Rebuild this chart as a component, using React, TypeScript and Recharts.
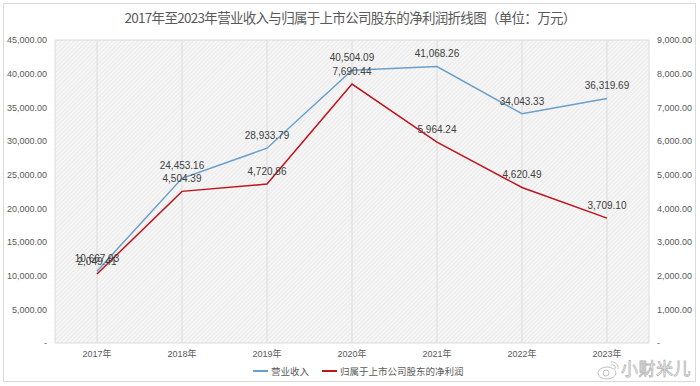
import React from 'react';
import {
  LineChart,
  Line,
  XAxis,
  YAxis,
  CartesianGrid,
  LabelList,
  Legend,
} from 'recharts';

const years = ['2017年', '2018年', '2019年', '2020年', '2021年', '2022年', '2023年'];
const revenue = [10667.93, 24453.16, 28933.79, 40504.09, 41068.26, 34043.33, 36319.69];
const netProfit = [2049.41, 4504.39, 4720.86, 7690.44, 5964.24, 4620.49, 3709.1];
const leftTicks = [0, 5000, 10000, 15000, 20000, 25000, 30000, 35000, 40000, 45000];
const rightTicks = [0, 1000, 2000, 3000, 4000, 5000, 6000, 7000, 8000, 9000];

const REV_NAME = '营业收入';
const PROFIT_NAME = '归属于上市公司股东的净利润';

const data = years.map((y, i) => ({
  year: y,
  [REV_NAME]: revenue[i],
  [PROFIT_NAME]: netProfit[i],
}));

const fmt = (v: number) =>
  v === 0 ? '-' : Number(v).toLocaleString('en-US', { minimumFractionDigits: 2, maximumFractionDigits: 2 });

const FONT = '"Liberation Sans", "Noto Sans CJK SC", sans-serif';

const LegendContent = () => (
  <div
    style={{
      height: 15,
      display: 'flex',
      justifyContent: 'flex-start',
      alignItems: 'center',
      paddingLeft: 253,
      fontFamily: '"Noto Sans CJK SC", sans-serif',
      fontSize: 9.5,
      color: '#595959',
    }}
  >
    <span style={{ display: 'inline-block', width: 15, height: 2, background: '#6a9fca', marginRight: 3 }} />
    <span style={{ marginRight: 13 }}>{REV_NAME}</span>
    <span style={{ display: 'inline-block', width: 15, height: 2, background: '#c0141c', marginRight: 3 }} />
    <span>{PROFIT_NAME}</span>
  </div>
);

export default function App() {
  return (
    <div style={{ position: 'absolute', left: 0, top: 0, width: 700, height: 386, background: '#fff', overflow: 'hidden' }}>
      <div
        style={{
          position: 'absolute',
          left: 3,
          top: 3,
          width: 693,
          height: 379,
          border: '1px solid #d9d9d9',
          boxSizing: 'border-box',
        }}
      />
      <div
        style={{
          position: 'absolute',
          top: 7,
          left: 0,
          width: 700,
          textAlign: 'center',
          fontFamily: '"Noto Sans CJK SC", sans-serif',
          fontSize: 13.5,
          letterSpacing: -0.7,
          color: '#595959',
        }}
      >
        2017年至2023年营业收入与归属于上市公司股东的净利润折线图（单位：万元）
      </div>
      <div style={{ position: 'absolute', left: 0, top: 0 }}>
        <LineChart
          width={700}
          height={386}
          data={data}
          margin={{ top: 40, right: 0, bottom: 8, left: 0 }}
          style={{ fontFamily: FONT }}
        >
          <defs>
            <pattern id="hatch" width="3" height="3" patternUnits="userSpaceOnUse" patternTransform="rotate(45)">
              <rect width="3" height="3" fill="#f6f6f6" />
              <line x1="0" y1="0" x2="0" y2="3" stroke="#e2e2e2" strokeWidth="1.2" />
            </pattern>
          </defs>
          <CartesianGrid stroke="#dcdcdc" fill="url(#hatch)" fillOpacity={1} />
          <XAxis
            dataKey="year"
            height={20}
            padding={{ left: 42, right: 42 }}
            tick={{ fill: '#595959', fontSize: 9 }}
            tickLine={false}
            axisLine={false}
          />
          <YAxis
            yAxisId="left"
            width={55}
            domain={[0, 45000]}
            ticks={leftTicks}
            tickFormatter={fmt}
            tick={{ fill: '#595959', fontSize: 9 }}
            tickLine={false}
            axisLine={false}
          />
          <YAxis
            yAxisId="right"
            orientation="right"
            width={51}
            domain={[0, 9000]}
            ticks={rightTicks}
            tickFormatter={fmt}
            tick={{ fill: '#595959', fontSize: 9, textAnchor: 'start' }}
            tickLine={false}
            axisLine={false}
          />
          <Legend verticalAlign="bottom" content={<LegendContent />} />
          <Line
            yAxisId="left"
            type="linear"
            dataKey={REV_NAME}
            stroke="#6a9fca"
            strokeWidth={1.5}
            dot={false}
            isAnimationActive={false}
          >
            <LabelList dataKey={REV_NAME} position="top" offset={9} formatter={fmt} style={{ fill: '#404040', fontSize: 10 }} />
          </Line>
          <Line
            yAxisId="right"
            type="linear"
            dataKey={PROFIT_NAME}
            stroke="#c0141c"
            strokeWidth={1.5}
            dot={false}
            isAnimationActive={false}
          >
            <LabelList dataKey={PROFIT_NAME} position="top" offset={9} formatter={fmt} style={{ fill: '#404040', fontSize: 10 }} />
          </Line>
        </LineChart>
      </div>
      <svg style={{ position: 'absolute', left: 597, top: 360 }} width={22} height={20}>
        <ellipse cx={10} cy={13} rx={9} ry={6} fill="none" stroke="#c0c0c0" strokeWidth={1} />
        <circle cx={9} cy={13} r={3} fill="none" stroke="#c0c0c0" strokeWidth={1} />
        <path d="M14 2 A6 6 0 0 1 21 9" fill="none" stroke="#c0c0c0" strokeWidth={1} />
        <path d="M14 5 A3 3 0 0 1 18 9" fill="none" stroke="#c0c0c0" strokeWidth={1} />
      </svg>
      <div
        style={{
          position: 'absolute',
          left: 621,
          top: 357,
          whiteSpace: 'nowrap',
          fontFamily: '"Noto Sans CJK SC", sans-serif',
          fontSize: 17,
          lineHeight: '22px',
          color: '#fff',
          WebkitTextStroke: '0.8px #b8b8b8',
          letterSpacing: 0.5,
        }}
      >
        小财米儿
      </div>
    </div>
  );
}
